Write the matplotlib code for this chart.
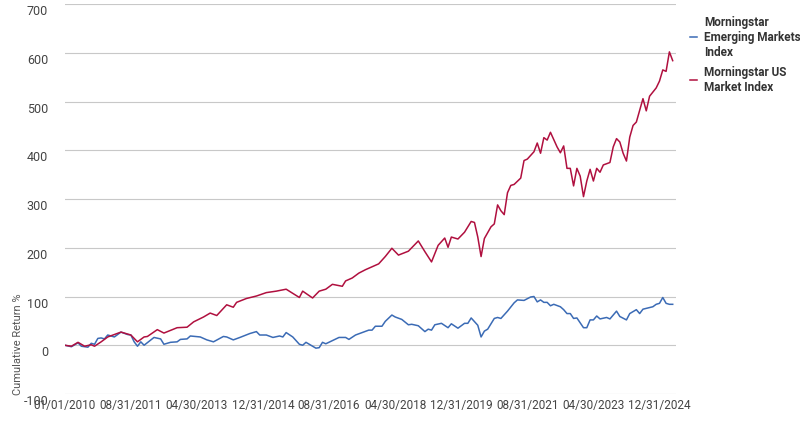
import matplotlib
matplotlib.use("Agg")
import matplotlib.pyplot as plt

# month offsets from 01/2010 and cumulative return %
us_month = [0, 2, 4, 6, 8, 9, 11, 13, 17, 20, 22, 24, 25, 28, 30, 34, 37, 39, 42, 44, 46, 49, 51, 52,
            55, 58, 61, 64, 67, 71, 72, 75, 77, 79, 81, 84, 85, 87, 89, 91, 93, 95, 97, 99, 101, 104,
            107, 109, 111, 113, 115, 116, 117, 119, 121, 123, 124, 125, 126, 127, 129, 130, 131, 132,
            133, 134, 135, 136, 138, 139, 140, 142, 143, 144, 145, 146, 147, 149, 150, 151, 152, 153,
            154, 155, 156, 157, 158, 159, 160, 161, 162, 163, 165, 166, 167, 168, 169, 170, 171, 172,
            173, 174, 175, 176, 177, 179, 180, 181, 182, 183, 184]
us_ret = [0, -2, 6, -2, 1, -2, 7, 17, 27, 21, 7, 17, 18, 32, 25, 36, 37, 48, 58, 66, 61, 83, 78, 88,
          96, 101, 108, 111, 115, 98, 111, 97, 111, 115, 125, 121, 132, 138, 148, 155, 161, 167, 182,
          199, 185, 193, 214, 192, 171, 205, 220, 201, 222, 218, 232, 254, 252, 222, 182, 219, 243,
          249, 288, 276, 268, 313, 328, 330, 343, 379, 382, 397, 415, 394, 426, 421, 437, 407, 395,
          409, 363, 363, 327, 363, 347, 305, 337, 361, 337, 363, 355, 370, 375, 407, 424, 417, 394,
          378, 427, 451, 458, 482, 506, 481, 511, 528, 542, 565, 562, 602, 584]

em_month = [0, 2, 4, 5, 7, 8, 9, 10, 11, 12, 13, 15, 17, 19, 20, 21, 22, 23, 24, 27, 29, 30, 32, 34,
            35, 37, 38, 41, 43, 45, 48, 49, 51, 53, 56, 58, 59, 61, 63, 65, 66, 67, 69, 71, 72, 73,
            74, 76, 77, 78, 79, 83, 85, 86, 88, 90, 92, 93, 94, 96, 97, 99, 100, 102, 104, 105, 107,
            109, 110, 111, 112, 114, 116, 117, 119, 121, 122, 123, 125, 126, 127, 128, 130, 131, 132,
            134, 136, 137, 139, 141, 142, 143, 144, 145, 146, 147, 148, 150, 151, 152, 153, 154, 155,
            157, 158, 159, 160, 161, 162, 164, 165, 167, 168, 170, 171, 173, 174, 175, 178, 179, 180,
            181, 182, 183, 184]
em_ret = [0, -3, 5, -2, -4, 4, 2, 14, 15, 13, 21, 17, 27, 22, 21, 7, -2, 7, 0, 16, 13, 2, 6, 7,
          12, 13, 19, 17, 11, 7, 18, 17, 11, 16, 24, 28, 21, 21, 16, 19, 17, 26, 17, 2, 0, 6,
          2, -6, -5, 6, 3, 16, 16, 12, 21, 26, 31, 31, 39, 39, 49, 62, 58, 53, 42, 43, 40,
          28, 33, 31, 42, 45, 36, 44, 35, 45, 45, 56, 41, 17, 29, 33, 55, 57, 55,
          70, 87, 93, 92, 99, 100, 89, 93, 88, 88, 81, 84, 79, 73, 65, 65, 55, 56,
          36, 36, 52, 52, 60, 54, 57, 54, 70, 59, 52, 65, 73, 65, 74, 79, 84, 86,
          98, 86, 84, 84]

x_ticks = [0, 20, 40, 60, 80, 100, 120, 140, 160, 180]
x_labels = ["01/01/2010", "08/31/2011", "04/30/2013", "12/31/2014", "08/31/2016",
            "04/30/2018", "12/31/2019", "08/31/2021", "04/30/2023", "12/31/2024"]
y_ticks = [-100, 0, 100, 200, 300, 400, 500, 600, 700]

plt.rcParams["font.family"] = ["Roboto", "DejaVu Sans"]

fig = plt.figure(figsize=(8, 4.27), dpi=100)
ax = fig.add_axes([0.081, 0.075, 0.764, 0.913])
ax.plot(em_month, em_ret, color="#3B6BB5", lw=1.1, label="Morningstar\nEmerging Markets\nIndex")
ax.plot(us_month, us_ret, color="#B0103F", lw=1.1, label="Morningstar US\nMarket Index")

ax.set_xlim(0, 185)
ax.set_ylim(-100, 700)
ax.set_xticks(x_ticks)
ax.set_xticklabels(x_labels, fontsize=8.5, color="#444444")
ax.set_yticks(y_ticks)
ax.set_yticklabels([str(v) for v in y_ticks], fontsize=9, color="#444444")
for lab in ax.get_yticklabels():
    lab.set_va("top")
ax.tick_params(length=0, pad=3)
ax.tick_params(axis="y", pad=12)
ax.grid(axis="y", color="#c8c8c8", lw=0.8)
ax.set_axisbelow(True)
for s in ax.spines.values():
    s.set_visible(False)
ax.set_ylabel("Cumulative Return %", fontsize=8, color="#555555", loc="bottom", labelpad=0)

ax.legend(loc="upper left", bbox_to_anchor=(1.005, 1.0), frameon=False, handlelength=0.6,
          handletextpad=0.6, labelspacing=0.6, prop={"size": 8.5, "weight": "bold"},
          labelcolor="#333333")

fig.savefig("out.png", dpi=100)
